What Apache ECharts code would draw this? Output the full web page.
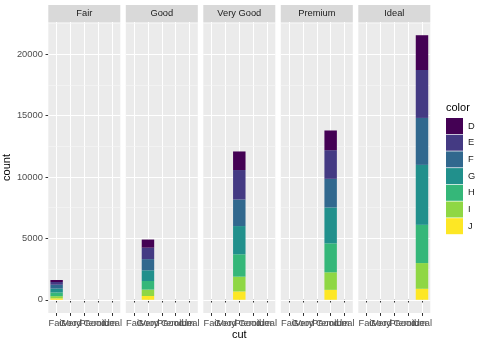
<!DOCTYPE html>
<html><head><meta charset="utf-8">
<script src="https://cdn.jsdelivr.net/npm/echarts@6/dist/echarts.min.js"></script>
<style>html,body{margin:0;padding:0;background:#fff}#c{width:485px;height:346px}</style>
</head><body><div id="c"></div>
<script>
const cuts = ['Fair', 'Good', 'Very Good', 'Premium', 'Ideal'];
const colorLevels = ['D', 'E', 'F', 'G', 'H', 'I', 'J'];
const countD = [163, 662, 1513, 1603, 2834];
const countE = [224, 933, 2400, 2337, 3903];
const countF = [312, 909, 2164, 2331, 3826];
const countG = [314, 871, 2299, 2924, 4884];
const countH = [303, 702, 1824, 2360, 3115];
const countI = [175, 522, 1204, 1428, 2093];
const countJ = [119, 307, 678, 808, 896];
const yBreaks = [0, 5000, 10000, 15000, 20000];
const yMinorBreaks = [2500, 7500, 12500, 17500, 22500];
const fills = ['#440154', '#443A83', '#31688E', '#21908C', '#35B779', '#8FD744', '#FDE725'];
const countsByColor = [countD, countE, countF, countG, countH, countI, countJ];

// layout
const P = { left: 48.3, width: 72, gap: 5.5, top: 22, height: 291, stripTop: 5 };
const FONT = 'Liberation Sans, Arial, sans-serif';
const AXFS = 9.3;
const totals = cuts.map((c, i) => countsByColor.reduce((s, a) => s + a[i], 0));
const maxT = Math.max(...totals);
const yMin = -0.05 * maxT, yMax = 1.05 * maxT;

// fine-grained category axis to reproduce ggplot's 0.6 discrete expansion
const SUB = 5;
const nSlots = Math.round((cuts.length - 1 + 1.2) * SUB) + 1;
const slots = [];
for (let s = 0; s < nSlots; s++) {
  const pos = 0.4 + s / SUB;
  const k = Math.round(pos);
  if (Math.abs(pos - k) < 1e-6 && k >= 1 && k <= cuts.length) slots.push(cuts[k - 1]);
  else slots.push('_' + s);
}
const isCut = (v) => cuts.indexOf(v) >= 0;
const nameAt = (i, v) => (typeof v === 'string' ? v : slots[i]);
const cutFn = (i, v) => isCut(nameAt(i, v));
// overlapping tick labels are split over several stacked axes so that none gets auto-hidden
const labelGroups = [['Fair', 'Premium'], ['Good', 'Ideal'], ['Very Good']];
const barW = P.width / (cuts.length + 0.2) * 0.9;

const grids = [], xAxes = [], yAxes = [], series = [], graphics = [];
cuts.forEach((cut, p) => {
  const left = P.left + p * (P.width + P.gap);
  grids.push({ left: left, top: P.top, width: P.width, height: P.height, show: true,
    backgroundColor: '#EBEBEB', borderWidth: 0, containLabel: false });
  labelGroups.forEach((grp, g) => {
    const fn = (i, v) => grp.indexOf(nameAt(i, v)) >= 0;
    xAxes.push({
      type: 'category', gridIndex: p, data: slots, boundaryGap: false, position: 'bottom', offset: 0,
      axisLine: { show: false },
      axisTick: { show: true, interval: cutFn, length: 2.75, lineStyle: { color: '#333333', width: 1 } },
      axisLabel: { interval: fn, color: '#4D4D4D', fontSize: AXFS, fontFamily: FONT, margin: 6,
        hideOverlap: false, showMinLabel: true, showMaxLabel: true },
      splitLine: { show: g === 0, interval: cutFn, lineStyle: { color: '#FFFFFF', width: 1 } }
    });
  });
  const xi = p * labelGroups.length;
  yAxes.push({
    type: 'value', gridIndex: p, min: yMin, max: yMax,
    axisLine: { show: false },
    splitLine: { show: false },
    axisTick: { show: p === 0, length: 2.75, customValues: yBreaks, lineStyle: { color: '#333333', width: 1 } },
    axisLabel: { show: p === 0, customValues: yBreaks, formatter: (v) => String(v),
      color: '#4D4D4D', fontSize: AXFS, fontFamily: FONT, margin: 5.5 },
    name: p === 0 ? 'count' : '', nameLocation: 'middle', nameGap: 36,
    nameTextStyle: { fontSize: 11, color: '#000', fontFamily: FONT }
  });
  series.push({
    type: 'line', xAxisIndex: xi, yAxisIndex: p, data: [], z: 1, silent: true,
    markLine: {
      z: 1, silent: true, symbol: 'none', animation: false, label: { show: false },
      data: yBreaks.map(v => ({ yAxis: v, lineStyle: { color: '#FFFFFF', width: 1, type: 'solid' } }))
        .concat(yMinorBreaks.map(v => ({ yAxis: v, lineStyle: { color: '#F6F6F6', width: 0.6, type: 'solid' } })))
    }
  });
  for (let c = colorLevels.length - 1; c >= 0; c--) {
    series.push({
      type: 'bar', name: colorLevels[c], xAxisIndex: xi, yAxisIndex: p, stack: 's' + p,
      barWidth: barW, z: 3,
      data: [[cut, countsByColor[c][p]]],
      itemStyle: { color: fills[c] },
      emphasis: { disabled: true }
    });
  }
  graphics.push({ type: 'rect', shape: { x: left, y: P.stripTop, width: P.width, height: P.top - P.stripTop },
    style: { fill: '#D9D9D9' }, silent: true });
  graphics.push({ type: 'text', x: left + P.width / 2, y: (P.stripTop + P.top) / 2,
    style: { text: cut, fill: '#1A1A1A', font: AXFS + 'px ' + FONT, textAlign: 'center', textVerticalAlign: 'middle' }, silent: true });
});
const panelsW = cuts.length * P.width + (cuts.length - 1) * P.gap;
graphics.push({ type: 'text', x: P.left + panelsW / 2, y: 335,
  style: { text: 'cut', fill: '#000', font: '11px ' + FONT, textAlign: 'center', textVerticalAlign: 'middle' }, silent: true });
graphics.push({ type: 'text', x: 446, y: 108,
  style: { text: 'color', fill: '#000', font: '11px ' + FONT, textAlign: 'left', textVerticalAlign: 'middle' }, silent: true });

const chart = echarts.init(document.getElementById('c'), null, { renderer: 'canvas' });
chart.setOption({
  animation: false,
  backgroundColor: '#FFFFFF',
  grid: grids, xAxis: xAxes, yAxis: yAxes, series: series,
  legend: {
    data: colorLevels, orient: 'vertical', left: 446, top: 118, padding: 0,
    itemWidth: 17, itemHeight: 16, itemGap: 0.7, icon: 'rect', selectedMode: false,
    textStyle: { fontSize: AXFS, color: '#1A1A1A', fontFamily: FONT }, itemStyle: { borderWidth: 0 }
  },
  graphic: graphics
});
</script></body></html>
